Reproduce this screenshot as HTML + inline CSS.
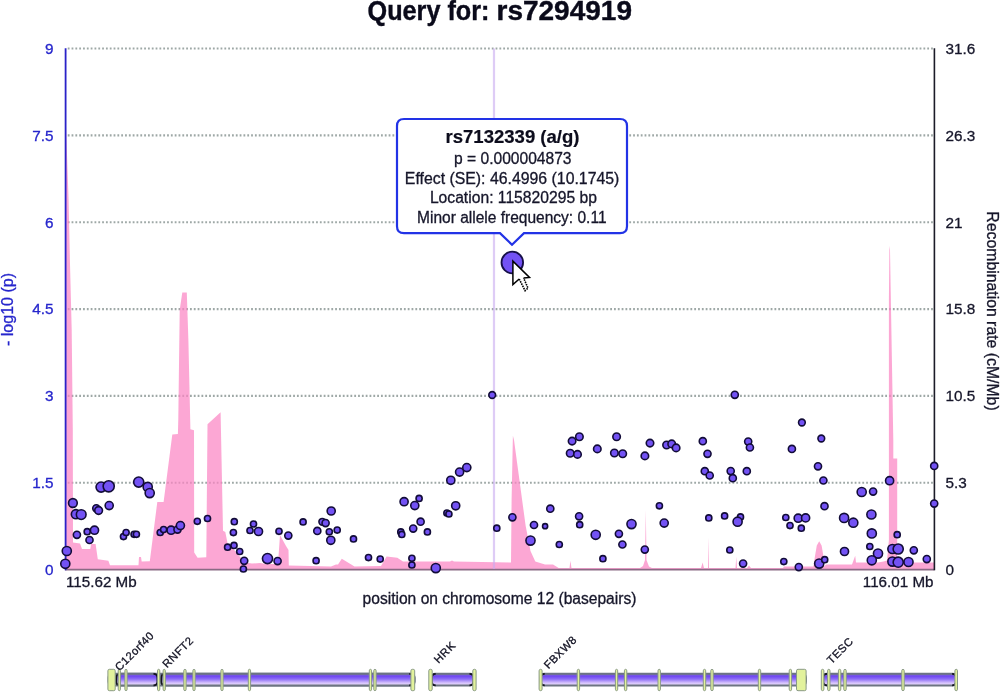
<!DOCTYPE html>
<html><head><meta charset="utf-8"><title>Query for: rs7294919</title>
<style>
html,body{margin:0;padding:0;background:#fff;}
body{width:1000px;height:694px;overflow:hidden;font-family:"Liberation Sans",Arial,sans-serif;}
svg{display:block;}
text{font-family:"Liberation Sans",Arial,sans-serif;}
</style></head><body>
<svg width="1000" height="694" viewBox="0 0 1000 694">
<defs>
<linearGradient id="bar" x1="0" y1="0" x2="0" y2="1">
<stop offset="0" stop-color="#7a6cc8"/><stop offset="0.22" stop-color="#7048f2"/><stop offset="0.45" stop-color="#8c6cf6"/>
<stop offset="0.78" stop-color="#d4c0fc"/><stop offset="1" stop-color="#ecdfff"/>
</linearGradient>
</defs>
<rect x="0" y="0" width="1000" height="694" fill="#fff"/>

<text x="367.5" y="20" font-size="27.2" font-weight="bold" fill="#0a0a1a" stroke="#0a0a1a" stroke-width="0.4" textLength="122" lengthAdjust="spacingAndGlyphs">Query for:</text>
<text x="496.5" y="20" font-size="27.2" font-weight="bold" fill="#0a0a1a" stroke="#0a0a1a" stroke-width="0.4" textLength="135.5" lengthAdjust="spacingAndGlyphs">rs7294919</text>
<line x1="67.75" y1="48.5" x2="934" y2="48.5" stroke="#9ea8a6" stroke-width="2.1" stroke-dasharray="1.8 2.02"/>
<line x1="67.75" y1="135.4" x2="934" y2="135.4" stroke="#9ea8a6" stroke-width="2.1" stroke-dasharray="1.8 2.02"/>
<line x1="67.75" y1="222.2" x2="934" y2="222.2" stroke="#9ea8a6" stroke-width="2.1" stroke-dasharray="1.8 2.02"/>
<line x1="67.75" y1="309.1" x2="934" y2="309.1" stroke="#9ea8a6" stroke-width="2.1" stroke-dasharray="1.8 2.02"/>
<line x1="67.75" y1="395.9" x2="934" y2="395.9" stroke="#9ea8a6" stroke-width="2.1" stroke-dasharray="1.8 2.02"/>
<line x1="67.75" y1="482.8" x2="934" y2="482.8" stroke="#9ea8a6" stroke-width="2.1" stroke-dasharray="1.8 2.02"/>
<polygon points="65.5,570 65.5,112.0 68.6,200.0 69.9,260.0 71.7,330.0 72.8,430.0 73.0,542.6 80.0,543.4 82.0,549.0 90.3,549.0 91.0,544.1 95.6,544.1 97.8,559.3 108.4,560.8 110.0,565.3 138.5,565.3 139.0,557.0 141.0,557.0 141.7,561.5 149.8,561.3 157.3,501.9 163.6,501.9 172.3,434.4 177.9,434.0 178.3,419.0 179.7,310.0 182.3,292.5 186.8,292.5 188.4,340.5 190.4,429.3 194.0,430.3 194.2,552.6 197.6,557.8 206.3,557.3 207.5,424.3 220.6,412.2 223.0,530.7 225.3,531.9 227.6,543.4 234.5,550.3 240.3,557.3 248.4,563.0 252.0,563.5 260.0,563.0 266.0,564.0 278.0,564.0 280.0,535.0 286.0,546.0 288.5,550.0 288.8,565.5 331.0,566.5 336.0,564.6 338.0,564.6 341.8,558.7 354.5,566.5 381.0,566.0 386.6,556.4 397.3,557.8 403.0,561.6 450.0,561.6 452.0,560.5 454.0,561.6 511.0,562.6 511.6,500.0 512.9,435.7 514.0,440.0 519.8,482.8 525.6,525.6 530.5,551.0 535.3,561.6 545.0,564.6 553.0,564.6 558.7,568.0 569.5,568.0 570.4,560.7 571.5,568.0 640.0,568.0 643.0,566.0 645.0,560.0 645.8,510.0 646.5,560.0 649.0,566.5 652.0,568.0 701.0,568.0 702.6,562.6 704.0,568.0 708.0,568.0 708.4,537.3 709.0,568.0 735.5,568.0 736.3,556.8 737.0,568.0 747.0,568.0 749.0,565.5 751.0,568.0 783.0,568.0 784.0,566.5 813.4,566.5 815.0,556.0 816.8,545.5 819.2,541.2 821.6,545.5 823.4,556.0 824.1,566.5 826.0,564.6 852.0,564.6 855.2,555.8 856.0,562.6 878.0,562.6 883.5,561.5 887.0,560.6 888.9,540.0 888.9,300.0 889.4,246.0 890.0,250.0 893.3,440.0 893.3,458.5 897.2,458.5 897.2,560.6 900.0,562.6 934.0,562.6 934,570" fill="#fb85c3" fill-opacity="0.72"/>
<line x1="65" y1="569.7" x2="934.5" y2="569.7" stroke="#8a6a84" stroke-width="1.7"/>
<line x1="494" y1="48.5" x2="494" y2="569" stroke="#c8aaf0" stroke-opacity="0.6" stroke-width="2.2"/>
<line x1="65.6" y1="48.2" x2="65.6" y2="570.3" stroke="#2a22c8" stroke-width="1.8"/>
<line x1="934.4" y1="48.2" x2="934.4" y2="570.3" stroke="#1c1c28" stroke-width="1.6"/>
<circle cx="65.3" cy="563.8" r="4.55" fill="#7352f4" stroke="#120c38" stroke-width="1.6"/>
<circle cx="66.8" cy="551" r="4.55" fill="#7352f4" stroke="#120c38" stroke-width="1.6"/>
<circle cx="72.9" cy="503" r="4.35" fill="#7352f4" stroke="#120c38" stroke-width="1.6"/>
<circle cx="75.9" cy="514.2" r="4.55" fill="#7352f4" stroke="#120c38" stroke-width="1.6"/>
<circle cx="81.2" cy="514.6" r="4.85" fill="#7352f4" stroke="#120c38" stroke-width="1.6"/>
<circle cx="76.9" cy="534.8" r="3.55" fill="#7352f4" stroke="#120c38" stroke-width="1.6"/>
<circle cx="87.2" cy="531.7" r="3.05" fill="#7352f4" stroke="#120c38" stroke-width="1.6"/>
<circle cx="94.5" cy="530.2" r="4.05" fill="#7352f4" stroke="#120c38" stroke-width="1.6"/>
<circle cx="89.5" cy="540" r="3.55" fill="#7352f4" stroke="#120c38" stroke-width="1.6"/>
<circle cx="101.1" cy="487.1" r="5.05" fill="#7352f4" stroke="#120c38" stroke-width="1.6"/>
<circle cx="108.7" cy="486.3" r="5.55" fill="#7352f4" stroke="#120c38" stroke-width="1.6"/>
<circle cx="96.3" cy="508.3" r="3.55" fill="#7352f4" stroke="#120c38" stroke-width="1.6"/>
<circle cx="98.6" cy="510.5" r="3.85" fill="#7352f4" stroke="#120c38" stroke-width="1.6"/>
<circle cx="109.2" cy="505.6" r="4.05" fill="#7352f4" stroke="#120c38" stroke-width="1.6"/>
<circle cx="123.5" cy="536.6" r="3.05" fill="#7352f4" stroke="#120c38" stroke-width="1.6"/>
<circle cx="126.1" cy="532.5" r="3.05" fill="#7352f4" stroke="#120c38" stroke-width="1.6"/>
<circle cx="134.1" cy="534.3" r="3.05" fill="#7352f4" stroke="#120c38" stroke-width="1.6"/>
<circle cx="136.4" cy="534.3" r="3.05" fill="#7352f4" stroke="#120c38" stroke-width="1.6"/>
<circle cx="138.7" cy="482.1" r="5.05" fill="#7352f4" stroke="#120c38" stroke-width="1.6"/>
<circle cx="147.7" cy="486.9" r="4.55" fill="#7352f4" stroke="#120c38" stroke-width="1.6"/>
<circle cx="149.7" cy="493.1" r="4.55" fill="#7352f4" stroke="#120c38" stroke-width="1.6"/>
<circle cx="160.2" cy="532.5" r="3.05" fill="#7352f4" stroke="#120c38" stroke-width="1.6"/>
<circle cx="163.6" cy="529.6" r="3.05" fill="#7352f4" stroke="#120c38" stroke-width="1.6"/>
<circle cx="171.1" cy="530.2" r="4.05" fill="#7352f4" stroke="#120c38" stroke-width="1.6"/>
<circle cx="177.5" cy="529.6" r="3.55" fill="#7352f4" stroke="#120c38" stroke-width="1.6"/>
<circle cx="180.4" cy="525.6" r="4.05" fill="#7352f4" stroke="#120c38" stroke-width="1.6"/>
<circle cx="197.3" cy="521.3" r="3.05" fill="#7352f4" stroke="#120c38" stroke-width="1.6"/>
<circle cx="207.5" cy="518.5" r="3.05" fill="#7352f4" stroke="#120c38" stroke-width="1.6"/>
<circle cx="234.3" cy="521.7" r="3.05" fill="#7352f4" stroke="#120c38" stroke-width="1.6"/>
<circle cx="233.4" cy="532.6" r="3.05" fill="#7352f4" stroke="#120c38" stroke-width="1.6"/>
<circle cx="227.6" cy="547.2" r="3.05" fill="#7352f4" stroke="#120c38" stroke-width="1.6"/>
<circle cx="234" cy="545.4" r="3.05" fill="#7352f4" stroke="#120c38" stroke-width="1.6"/>
<circle cx="239.7" cy="551.5" r="3.05" fill="#7352f4" stroke="#120c38" stroke-width="1.6"/>
<circle cx="244.2" cy="560.8" r="3.55" fill="#7352f4" stroke="#120c38" stroke-width="1.6"/>
<circle cx="243.4" cy="569" r="3.05" fill="#7352f4" stroke="#120c38" stroke-width="1.6"/>
<circle cx="253.5" cy="524" r="3.05" fill="#7352f4" stroke="#120c38" stroke-width="1.6"/>
<circle cx="250" cy="530.5" r="3.05" fill="#7352f4" stroke="#120c38" stroke-width="1.6"/>
<circle cx="258.5" cy="531.5" r="4.05" fill="#7352f4" stroke="#120c38" stroke-width="1.6"/>
<circle cx="279" cy="531.3" r="3.05" fill="#7352f4" stroke="#120c38" stroke-width="1.6"/>
<circle cx="288.3" cy="535.6" r="3.55" fill="#7352f4" stroke="#120c38" stroke-width="1.6"/>
<circle cx="267.5" cy="558.6" r="5.05" fill="#7352f4" stroke="#120c38" stroke-width="1.6"/>
<circle cx="277.6" cy="561.1" r="3.55" fill="#7352f4" stroke="#120c38" stroke-width="1.6"/>
<circle cx="303.1" cy="521.9" r="3.05" fill="#7352f4" stroke="#120c38" stroke-width="1.6"/>
<circle cx="317.3" cy="530.9" r="3.55" fill="#7352f4" stroke="#120c38" stroke-width="1.6"/>
<circle cx="322.3" cy="521.8" r="3.35" fill="#7352f4" stroke="#120c38" stroke-width="1.6"/>
<circle cx="325.6" cy="523.1" r="3.55" fill="#7352f4" stroke="#120c38" stroke-width="1.6"/>
<circle cx="329.3" cy="531.8" r="3.05" fill="#7352f4" stroke="#120c38" stroke-width="1.6"/>
<circle cx="331.2" cy="511" r="4.05" fill="#7352f4" stroke="#120c38" stroke-width="1.6"/>
<circle cx="330.8" cy="540.3" r="4.05" fill="#7352f4" stroke="#120c38" stroke-width="1.6"/>
<circle cx="337.2" cy="530.1" r="3.05" fill="#7352f4" stroke="#120c38" stroke-width="1.6"/>
<circle cx="316.1" cy="560.7" r="3.05" fill="#7352f4" stroke="#120c38" stroke-width="1.6"/>
<circle cx="353.5" cy="538.9" r="3.05" fill="#7352f4" stroke="#120c38" stroke-width="1.6"/>
<circle cx="368.5" cy="557.6" r="3.05" fill="#7352f4" stroke="#120c38" stroke-width="1.6"/>
<circle cx="380.2" cy="559.1" r="3.05" fill="#7352f4" stroke="#120c38" stroke-width="1.6"/>
<circle cx="404.1" cy="501.7" r="4.05" fill="#7352f4" stroke="#120c38" stroke-width="1.6"/>
<circle cx="414.8" cy="505.6" r="4.05" fill="#7352f4" stroke="#120c38" stroke-width="1.6"/>
<circle cx="419.1" cy="498.4" r="3.05" fill="#7352f4" stroke="#120c38" stroke-width="1.6"/>
<circle cx="420.6" cy="521.7" r="3.55" fill="#7352f4" stroke="#120c38" stroke-width="1.6"/>
<circle cx="413.2" cy="528.6" r="3.55" fill="#7352f4" stroke="#120c38" stroke-width="1.6"/>
<circle cx="400.8" cy="531.9" r="3.05" fill="#7352f4" stroke="#120c38" stroke-width="1.6"/>
<circle cx="401.8" cy="534.4" r="3.05" fill="#7352f4" stroke="#120c38" stroke-width="1.6"/>
<circle cx="427.4" cy="531.9" r="3.05" fill="#7352f4" stroke="#120c38" stroke-width="1.6"/>
<circle cx="411.9" cy="558.3" r="3.05" fill="#7352f4" stroke="#120c38" stroke-width="1.6"/>
<circle cx="411.9" cy="565" r="3.05" fill="#7352f4" stroke="#120c38" stroke-width="1.6"/>
<circle cx="435.8" cy="568.1" r="4.55" fill="#7352f4" stroke="#120c38" stroke-width="1.6"/>
<circle cx="450.8" cy="480.3" r="4.05" fill="#7352f4" stroke="#120c38" stroke-width="1.6"/>
<circle cx="459.6" cy="472.1" r="4.05" fill="#7352f4" stroke="#120c38" stroke-width="1.6"/>
<circle cx="466.8" cy="467.6" r="4.05" fill="#7352f4" stroke="#120c38" stroke-width="1.6"/>
<circle cx="455.7" cy="505.8" r="4.05" fill="#7352f4" stroke="#120c38" stroke-width="1.6"/>
<circle cx="446.9" cy="513" r="3.05" fill="#7352f4" stroke="#120c38" stroke-width="1.6"/>
<circle cx="448.9" cy="514" r="3.05" fill="#7352f4" stroke="#120c38" stroke-width="1.6"/>
<circle cx="492.2" cy="395" r="3.35" fill="#7352f4" stroke="#120c38" stroke-width="1.6"/>
<circle cx="496.8" cy="528.2" r="3.05" fill="#7352f4" stroke="#120c38" stroke-width="1.6"/>
<circle cx="512.4" cy="517.3" r="3.55" fill="#7352f4" stroke="#120c38" stroke-width="1.6"/>
<circle cx="534" cy="525" r="3.55" fill="#7352f4" stroke="#120c38" stroke-width="1.6"/>
<circle cx="545.1" cy="526.2" r="2.55" fill="#7352f4" stroke="#120c38" stroke-width="1.6"/>
<circle cx="550.3" cy="508.7" r="3.55" fill="#7352f4" stroke="#120c38" stroke-width="1.6"/>
<circle cx="530.5" cy="540.6" r="4.55" fill="#7352f4" stroke="#120c38" stroke-width="1.6"/>
<circle cx="559.3" cy="544.5" r="3.05" fill="#7352f4" stroke="#120c38" stroke-width="1.6"/>
<circle cx="579.1" cy="516.3" r="3.55" fill="#7352f4" stroke="#120c38" stroke-width="1.6"/>
<circle cx="579.7" cy="524.7" r="3.05" fill="#7352f4" stroke="#120c38" stroke-width="1.6"/>
<circle cx="595.7" cy="534.8" r="4.55" fill="#7352f4" stroke="#120c38" stroke-width="1.6"/>
<circle cx="602.9" cy="558.7" r="3.05" fill="#7352f4" stroke="#120c38" stroke-width="1.6"/>
<circle cx="618.9" cy="533.8" r="3.55" fill="#7352f4" stroke="#120c38" stroke-width="1.6"/>
<circle cx="622.4" cy="544.5" r="3.55" fill="#7352f4" stroke="#120c38" stroke-width="1.6"/>
<circle cx="572.1" cy="441.1" r="3.75" fill="#7352f4" stroke="#120c38" stroke-width="1.6"/>
<circle cx="579.4" cy="436.8" r="3.75" fill="#7352f4" stroke="#120c38" stroke-width="1.6"/>
<circle cx="570.2" cy="453.3" r="3.75" fill="#7352f4" stroke="#120c38" stroke-width="1.6"/>
<circle cx="577.5" cy="454.4" r="3.75" fill="#7352f4" stroke="#120c38" stroke-width="1.6"/>
<circle cx="597.3" cy="448.9" r="3.75" fill="#7352f4" stroke="#120c38" stroke-width="1.6"/>
<circle cx="616.6" cy="436.8" r="3.75" fill="#7352f4" stroke="#120c38" stroke-width="1.6"/>
<circle cx="614.4" cy="453" r="3.75" fill="#7352f4" stroke="#120c38" stroke-width="1.6"/>
<circle cx="622.7" cy="453.7" r="3.75" fill="#7352f4" stroke="#120c38" stroke-width="1.6"/>
<circle cx="644.9" cy="455.9" r="3.75" fill="#7352f4" stroke="#120c38" stroke-width="1.6"/>
<circle cx="650" cy="443.1" r="3.75" fill="#7352f4" stroke="#120c38" stroke-width="1.6"/>
<circle cx="666.6" cy="445" r="3.75" fill="#7352f4" stroke="#120c38" stroke-width="1.6"/>
<circle cx="671.7" cy="443.9" r="3.75" fill="#7352f4" stroke="#120c38" stroke-width="1.6"/>
<circle cx="676.1" cy="447.9" r="3.75" fill="#7352f4" stroke="#120c38" stroke-width="1.6"/>
<circle cx="702.8" cy="441.2" r="3.55" fill="#7352f4" stroke="#120c38" stroke-width="1.6"/>
<circle cx="707.5" cy="453.8" r="3.55" fill="#7352f4" stroke="#120c38" stroke-width="1.6"/>
<circle cx="704.8" cy="471.2" r="3.55" fill="#7352f4" stroke="#120c38" stroke-width="1.6"/>
<circle cx="709.7" cy="475.5" r="3.55" fill="#7352f4" stroke="#120c38" stroke-width="1.6"/>
<circle cx="730.7" cy="471.1" r="3.55" fill="#7352f4" stroke="#120c38" stroke-width="1.6"/>
<circle cx="732.8" cy="478.2" r="3.55" fill="#7352f4" stroke="#120c38" stroke-width="1.6"/>
<circle cx="746.8" cy="471.2" r="3.55" fill="#7352f4" stroke="#120c38" stroke-width="1.6"/>
<circle cx="748.2" cy="441.6" r="3.55" fill="#7352f4" stroke="#120c38" stroke-width="1.6"/>
<circle cx="749.9" cy="447.5" r="3.55" fill="#7352f4" stroke="#120c38" stroke-width="1.6"/>
<circle cx="734.8" cy="394.8" r="3.55" fill="#7352f4" stroke="#120c38" stroke-width="1.6"/>
<circle cx="801.9" cy="422.5" r="3.35" fill="#7352f4" stroke="#120c38" stroke-width="1.6"/>
<circle cx="791.9" cy="448.9" r="3.55" fill="#7352f4" stroke="#120c38" stroke-width="1.6"/>
<circle cx="821.3" cy="438.5" r="3.35" fill="#7352f4" stroke="#120c38" stroke-width="1.6"/>
<circle cx="818" cy="466.3" r="3.55" fill="#7352f4" stroke="#120c38" stroke-width="1.6"/>
<circle cx="823.4" cy="480.5" r="3.55" fill="#7352f4" stroke="#120c38" stroke-width="1.6"/>
<circle cx="824.5" cy="506.2" r="3.55" fill="#7352f4" stroke="#120c38" stroke-width="1.6"/>
<circle cx="659.4" cy="505.8" r="3.05" fill="#7352f4" stroke="#120c38" stroke-width="1.6"/>
<circle cx="631.5" cy="524.1" r="4.55" fill="#7352f4" stroke="#120c38" stroke-width="1.6"/>
<circle cx="664.2" cy="523.1" r="4.05" fill="#7352f4" stroke="#120c38" stroke-width="1.6"/>
<circle cx="644.8" cy="549.6" r="3.55" fill="#7352f4" stroke="#120c38" stroke-width="1.6"/>
<circle cx="708.8" cy="517.9" r="3.05" fill="#7352f4" stroke="#120c38" stroke-width="1.6"/>
<circle cx="724.6" cy="515.9" r="3.05" fill="#7352f4" stroke="#120c38" stroke-width="1.6"/>
<circle cx="740.5" cy="516.9" r="3.05" fill="#7352f4" stroke="#120c38" stroke-width="1.6"/>
<circle cx="737.6" cy="521.7" r="4.55" fill="#7352f4" stroke="#120c38" stroke-width="1.6"/>
<circle cx="729.8" cy="550" r="3.05" fill="#7352f4" stroke="#120c38" stroke-width="1.6"/>
<circle cx="743.1" cy="563.6" r="3.55" fill="#7352f4" stroke="#120c38" stroke-width="1.6"/>
<circle cx="785.8" cy="517.5" r="3.05" fill="#7352f4" stroke="#120c38" stroke-width="1.6"/>
<circle cx="798.2" cy="518.2" r="4.05" fill="#7352f4" stroke="#120c38" stroke-width="1.6"/>
<circle cx="805.6" cy="517.9" r="4.05" fill="#7352f4" stroke="#120c38" stroke-width="1.6"/>
<circle cx="790" cy="525.6" r="3.05" fill="#7352f4" stroke="#120c38" stroke-width="1.6"/>
<circle cx="801.3" cy="528.2" r="3.05" fill="#7352f4" stroke="#120c38" stroke-width="1.6"/>
<circle cx="783.8" cy="561.6" r="3.05" fill="#7352f4" stroke="#120c38" stroke-width="1.6"/>
<circle cx="798.8" cy="567.1" r="3.55" fill="#7352f4" stroke="#120c38" stroke-width="1.6"/>
<circle cx="819.2" cy="563.6" r="4.55" fill="#7352f4" stroke="#120c38" stroke-width="1.6"/>
<circle cx="824.7" cy="559.7" r="3.05" fill="#7352f4" stroke="#120c38" stroke-width="1.6"/>
<circle cx="844.1" cy="517.9" r="4.55" fill="#7352f4" stroke="#120c38" stroke-width="1.6"/>
<circle cx="853.3" cy="522.7" r="4.55" fill="#7352f4" stroke="#120c38" stroke-width="1.6"/>
<circle cx="861.7" cy="492" r="4.55" fill="#7352f4" stroke="#120c38" stroke-width="1.6"/>
<circle cx="873.1" cy="491.6" r="3.55" fill="#7352f4" stroke="#120c38" stroke-width="1.6"/>
<circle cx="871.4" cy="514.5" r="4.55" fill="#7352f4" stroke="#120c38" stroke-width="1.6"/>
<circle cx="871.8" cy="533.4" r="4.55" fill="#7352f4" stroke="#120c38" stroke-width="1.6"/>
<circle cx="869.8" cy="546.5" r="3.05" fill="#7352f4" stroke="#120c38" stroke-width="1.6"/>
<circle cx="844.5" cy="551.5" r="4.05" fill="#7352f4" stroke="#120c38" stroke-width="1.6"/>
<circle cx="878" cy="553.6" r="4.55" fill="#7352f4" stroke="#120c38" stroke-width="1.6"/>
<circle cx="871.8" cy="560.3" r="4.55" fill="#7352f4" stroke="#120c38" stroke-width="1.6"/>
<circle cx="889.6" cy="480.7" r="4.05" fill="#7352f4" stroke="#120c38" stroke-width="1.6"/>
<circle cx="897.2" cy="534.7" r="3.05" fill="#7352f4" stroke="#120c38" stroke-width="1.6"/>
<circle cx="892.4" cy="549" r="4.55" fill="#7352f4" stroke="#120c38" stroke-width="1.6"/>
<circle cx="898.2" cy="549" r="5.05" fill="#7352f4" stroke="#120c38" stroke-width="1.6"/>
<circle cx="913.8" cy="550.3" r="3.55" fill="#7352f4" stroke="#120c38" stroke-width="1.6"/>
<circle cx="892.4" cy="561.6" r="4.55" fill="#7352f4" stroke="#120c38" stroke-width="1.6"/>
<circle cx="898.2" cy="562.2" r="5.05" fill="#7352f4" stroke="#120c38" stroke-width="1.6"/>
<circle cx="908.5" cy="562" r="4.55" fill="#7352f4" stroke="#120c38" stroke-width="1.6"/>
<circle cx="926.8" cy="559.1" r="3.55" fill="#7352f4" stroke="#120c38" stroke-width="1.6"/>
<circle cx="934.2" cy="465.9" r="3.55" fill="#7352f4" stroke="#120c38" stroke-width="1.6"/>
<circle cx="934.2" cy="503.6" r="3.55" fill="#7352f4" stroke="#120c38" stroke-width="1.6"/>
<circle cx="512.3" cy="262.5" r="10.8" fill="#7352f4" stroke="#160f48" stroke-width="1.8"/>
<text x="53.5" y="53.9" text-anchor="end" font-size="15.3" fill="#2626cc" stroke="#2626cc" stroke-width="0.3">9</text>
<text x="53.5" y="140.8" text-anchor="end" font-size="15.3" fill="#2626cc" stroke="#2626cc" stroke-width="0.3">7.5</text>
<text x="53.5" y="227.6" text-anchor="end" font-size="15.3" fill="#2626cc" stroke="#2626cc" stroke-width="0.3">6</text>
<text x="53.5" y="314.4" text-anchor="end" font-size="15.3" fill="#2626cc" stroke="#2626cc" stroke-width="0.3">4.5</text>
<text x="53.5" y="401.3" text-anchor="end" font-size="15.3" fill="#2626cc" stroke="#2626cc" stroke-width="0.3">3</text>
<text x="53.5" y="488.1" text-anchor="end" font-size="15.3" fill="#2626cc" stroke="#2626cc" stroke-width="0.3">1.5</text>
<text x="53.5" y="575.0" text-anchor="end" font-size="15.3" fill="#2626cc" stroke="#2626cc" stroke-width="0.3">0</text>
<text x="945.5" y="53.9" font-size="15.3" fill="#16162a" stroke="#16162a" stroke-width="0.3">31.6</text>
<text x="945.5" y="140.8" font-size="15.3" fill="#16162a" stroke="#16162a" stroke-width="0.3">26.3</text>
<text x="945.5" y="227.6" font-size="15.3" fill="#16162a" stroke="#16162a" stroke-width="0.3">21</text>
<text x="945.5" y="314.4" font-size="15.3" fill="#16162a" stroke="#16162a" stroke-width="0.3">15.8</text>
<text x="945.5" y="401.3" font-size="15.3" fill="#16162a" stroke="#16162a" stroke-width="0.3">10.5</text>
<text x="945.5" y="488.1" font-size="15.3" fill="#16162a" stroke="#16162a" stroke-width="0.3">5.3</text>
<text x="945.5" y="575.0" font-size="15.3" fill="#16162a" stroke="#16162a" stroke-width="0.3">0</text>
<text transform="translate(12.5,309.5) rotate(-90)" text-anchor="middle" font-size="16" fill="#2626cc" stroke="#2626cc" stroke-width="0.3">- log10 (p)</text>
<text transform="translate(986.5,311) rotate(90)" text-anchor="middle" font-size="15.8" fill="#16162a" stroke="#16162a" stroke-width="0.3">Recombination rate (cM/Mb)</text>
<text x="66" y="587" font-size="15.2" fill="#16162a" stroke="#16162a" stroke-width="0.3">115.62 Mb</text>
<text x="933.5" y="587" text-anchor="end" font-size="15.2" fill="#16162a" stroke="#16162a" stroke-width="0.3">116.01 Mb</text>
<text x="499.5" y="604" text-anchor="middle" font-size="15.6" fill="#16162a" stroke="#16162a" stroke-width="0.3">position on chromosome 12 (basepairs)</text>
<rect x="108.5" y="673.8" width="49.5" height="11.6" rx="4" fill="url(#bar)" stroke="#6c7482" stroke-width="2"/>
<rect x="115.8" y="673.8" width="298.7" height="11.6" rx="4" fill="url(#bar)" stroke="#6c7482" stroke-width="2"/>
<rect x="160.8" y="673.8" width="253.7" height="11.6" rx="4" fill="url(#bar)" stroke="#6c7482" stroke-width="2"/>
<rect x="431.2" y="673.8" width="42.80000000000001" height="11.6" rx="4" fill="url(#bar)" stroke="#6c7482" stroke-width="2"/>
<rect x="540.2" y="673.8" width="265.79999999999995" height="11.6" rx="4" fill="url(#bar)" stroke="#6c7482" stroke-width="2"/>
<rect x="822.6" y="673.8" width="134.0" height="11.6" rx="4" fill="url(#bar)" stroke="#6c7482" stroke-width="2"/>
<path d="M120.3,673.9 Q116.39999999999999,673.9 116.39999999999999,677.9 V681.4 Q116.39999999999999,685.3 120.3,685.3" fill="none" stroke="#141420" stroke-width="1.8"/>
<path d="M165.3,673.9 Q161.4,673.9 161.4,677.9 V681.4 Q161.4,685.3 165.3,685.3" fill="none" stroke="#141420" stroke-width="1.8"/>
<path d="M435.7,673.9 Q431.8,673.9 431.8,677.9 V681.4 Q431.8,685.3 435.7,685.3" fill="none" stroke="#141420" stroke-width="1.8"/>
<path d="M544.7,673.9 Q540.8000000000001,673.9 540.8000000000001,677.9 V681.4 Q540.8000000000001,685.3 544.7,685.3" fill="none" stroke="#141420" stroke-width="1.8"/>
<path d="M827.1,673.9 Q823.2,673.9 823.2,677.9 V681.4 Q823.2,685.3 827.1,685.3" fill="none" stroke="#141420" stroke-width="1.8"/>
<path d="M153.5,673.9 Q157.4,673.9 157.4,677.9 V681.4 Q157.4,685.3 153.5,685.3" fill="none" stroke="#141420" stroke-width="1.8"/>
<path d="M409.3,673.9 Q413.2,673.9 413.2,677.9 V681.4 Q413.2,685.3 409.3,685.3" fill="none" stroke="#141420" stroke-width="1.8"/>
<path d="M469.5,673.9 Q473.4,673.9 473.4,677.9 V681.4 Q473.4,685.3 469.5,685.3" fill="none" stroke="#141420" stroke-width="1.8"/>
<path d="M952.1,673.9 Q956.0,673.9 956.0,677.9 V681.4 Q956.0,685.3 952.1,685.3" fill="none" stroke="#141420" stroke-width="1.8"/>
<rect x="107.9" y="669.3" width="7.3" height="21.4" rx="1.5" fill="#e2f29c" stroke="#8a9a86" stroke-width="1.0"/>
<rect x="118.2" y="669.3" width="2.2" height="21.4" rx="1.5" fill="#e2f29c" stroke="#8a9a86" stroke-width="1.0"/>
<rect x="124.9" y="669.3" width="2.2" height="21.4" rx="1.5" fill="#e2f29c" stroke="#8a9a86" stroke-width="1.0"/>
<rect x="157.5" y="669.3" width="2.3" height="21.4" rx="1.5" fill="#e2f29c" stroke="#8a9a86" stroke-width="1.0"/>
<rect x="163.1" y="669.3" width="2.2" height="21.4" rx="1.5" fill="#e2f29c" stroke="#8a9a86" stroke-width="1.0"/>
<rect x="183.8" y="669.3" width="2.3" height="21.4" rx="1.5" fill="#e2f29c" stroke="#8a9a86" stroke-width="1.0"/>
<rect x="192.9" y="669.3" width="2.2" height="21.4" rx="1.5" fill="#e2f29c" stroke="#8a9a86" stroke-width="1.0"/>
<rect x="220.9" y="669.3" width="2.2" height="21.4" rx="1.5" fill="#e2f29c" stroke="#8a9a86" stroke-width="1.0"/>
<rect x="248.3" y="669.3" width="2.3" height="21.4" rx="1.5" fill="#e2f29c" stroke="#8a9a86" stroke-width="1.0"/>
<rect x="369.3" y="669.3" width="2.3" height="21.4" rx="1.5" fill="#e2f29c" stroke="#8a9a86" stroke-width="1.0"/>
<rect x="373.8" y="669.3" width="2.3" height="21.4" rx="1.5" fill="#e2f29c" stroke="#8a9a86" stroke-width="1.0"/>
<rect x="410.9" y="669.3" width="3.8" height="21.4" rx="1.5" fill="#e2f29c" stroke="#8a9a86" stroke-width="1.0"/>
<rect x="428.8" y="669.3" width="3.4" height="21.4" rx="1.5" fill="#e2f29c" stroke="#8a9a86" stroke-width="1.0"/>
<rect x="472.8" y="669.3" width="3.3" height="21.4" rx="1.5" fill="#e2f29c" stroke="#8a9a86" stroke-width="1.0"/>
<rect x="539.1" y="669.3" width="3.0" height="21.4" rx="1.5" fill="#e2f29c" stroke="#8a9a86" stroke-width="1.0"/>
<rect x="577.2" y="669.3" width="2.4" height="21.4" rx="1.5" fill="#e2f29c" stroke="#8a9a86" stroke-width="1.0"/>
<rect x="615.4" y="669.3" width="2.3" height="21.4" rx="1.5" fill="#e2f29c" stroke="#8a9a86" stroke-width="1.0"/>
<rect x="624.4" y="669.3" width="2.4" height="21.4" rx="1.5" fill="#e2f29c" stroke="#8a9a86" stroke-width="1.0"/>
<rect x="658.0" y="669.3" width="2.4" height="21.4" rx="1.5" fill="#e2f29c" stroke="#8a9a86" stroke-width="1.0"/>
<rect x="703.3" y="669.3" width="2.4" height="21.4" rx="1.5" fill="#e2f29c" stroke="#8a9a86" stroke-width="1.0"/>
<rect x="710.8" y="669.3" width="2.4" height="21.4" rx="1.5" fill="#e2f29c" stroke="#8a9a86" stroke-width="1.0"/>
<rect x="758.3" y="669.3" width="2.4" height="21.4" rx="1.5" fill="#e2f29c" stroke="#8a9a86" stroke-width="1.0"/>
<rect x="789.2" y="669.3" width="2.4" height="21.4" rx="1.5" fill="#e2f29c" stroke="#8a9a86" stroke-width="1.0"/>
<rect x="796.5" y="669.3" width="9.6" height="21.4" rx="1.5" fill="#e2f29c" stroke="#8a9a86" stroke-width="1.0"/>
<rect x="821.3" y="669.3" width="2.6" height="21.4" rx="1.5" fill="#e2f29c" stroke="#8a9a86" stroke-width="1.0"/>
<rect x="827.6" y="669.3" width="2.4" height="21.4" rx="1.5" fill="#e2f29c" stroke="#8a9a86" stroke-width="1.0"/>
<rect x="838.4" y="669.3" width="2.4" height="21.4" rx="1.5" fill="#e2f29c" stroke="#8a9a86" stroke-width="1.0"/>
<rect x="843.8" y="669.3" width="2.4" height="21.4" rx="1.5" fill="#e2f29c" stroke="#8a9a86" stroke-width="1.0"/>
<rect x="901.8" y="669.3" width="2.4" height="21.4" rx="1.5" fill="#e2f29c" stroke="#8a9a86" stroke-width="1.0"/>
<rect x="954.9" y="669.3" width="2.6" height="21.4" rx="1.5" fill="#e2f29c" stroke="#8a9a86" stroke-width="1.0"/>
<text transform="translate(119.5,671.5) rotate(-45)" font-size="11.2" letter-spacing="0.5" fill="#111122" stroke="#111122" stroke-width="0.3">C12orf40</text>
<text transform="translate(167,668.5) rotate(-45)" font-size="11.2" letter-spacing="0.5" fill="#111122" stroke="#111122" stroke-width="0.3">RNFT2</text>
<text transform="translate(438.5,664) rotate(-45)" font-size="11.2" letter-spacing="0.5" fill="#111122" stroke="#111122" stroke-width="0.3">HRK</text>
<text transform="translate(548.5,669.5) rotate(-45)" font-size="11.2" letter-spacing="0.5" fill="#111122" stroke="#111122" stroke-width="0.3">FBXW8</text>
<text transform="translate(831.5,664.5) rotate(-45)" font-size="11.2" letter-spacing="0.5" fill="#111122" stroke="#111122" stroke-width="0.3">TESC</text>
<path d="M404,119 H620 Q627,119 627,126 V226.2 Q627,233.2 620,233.2 H524 L512,244.7 L500,233.2 H404 Q397,233.2 397,226.2 V126 Q397,119 404,119 Z" fill="#fff" stroke="#2233e6" stroke-width="2.2" stroke-linejoin="miter"/>
<text x="512.5" y="142.6" text-anchor="middle" font-size="18.6" font-weight="bold" fill="#0c0c1c" stroke="#0c0c1c" stroke-width="0.2" textLength="134" lengthAdjust="spacingAndGlyphs">rs7132339 (a/g)</text>
<text x="512.8" y="164.4" text-anchor="middle" font-size="15.6" fill="#16162a" stroke="#16162a" stroke-width="0.3" textLength="117.5" lengthAdjust="spacingAndGlyphs">p = 0.000004873</text>
<text x="512.1" y="183.8" text-anchor="middle" font-size="15.6" fill="#16162a" stroke="#16162a" stroke-width="0.3" textLength="214.5" lengthAdjust="spacingAndGlyphs">Effect (SE): 46.4996 (10.1745)</text>
<text x="513.4" y="203.2" text-anchor="middle" font-size="15.6" fill="#16162a" stroke="#16162a" stroke-width="0.3" textLength="167" lengthAdjust="spacingAndGlyphs">Location: 115820295 bp</text>
<text x="511.8" y="222.6" text-anchor="middle" font-size="15.6" fill="#16162a" stroke="#16162a" stroke-width="0.3" textLength="189.5" lengthAdjust="spacingAndGlyphs">Minor allele frequency: 0.11</text>
<path d="M512.9,261.1 L512.9,284.5 L519.2,279 L525.1,290.7 L528,288.1 L523.6,278 L529.5,277.5 Z" fill="#fff"/>
<path d="M523.6,278 L529.5,277.5 L512.9,261.1 L512.9,284.5 L519.2,279" fill="none" stroke="#000" stroke-width="1.5" stroke-linejoin="miter"/>
<path d="M519.2,279 L525.1,290.7 L528,288.1 L523.6,278" fill="none" stroke="#000" stroke-width="1.6" stroke-dasharray="1.5 1.0"/>
</svg></body></html>
